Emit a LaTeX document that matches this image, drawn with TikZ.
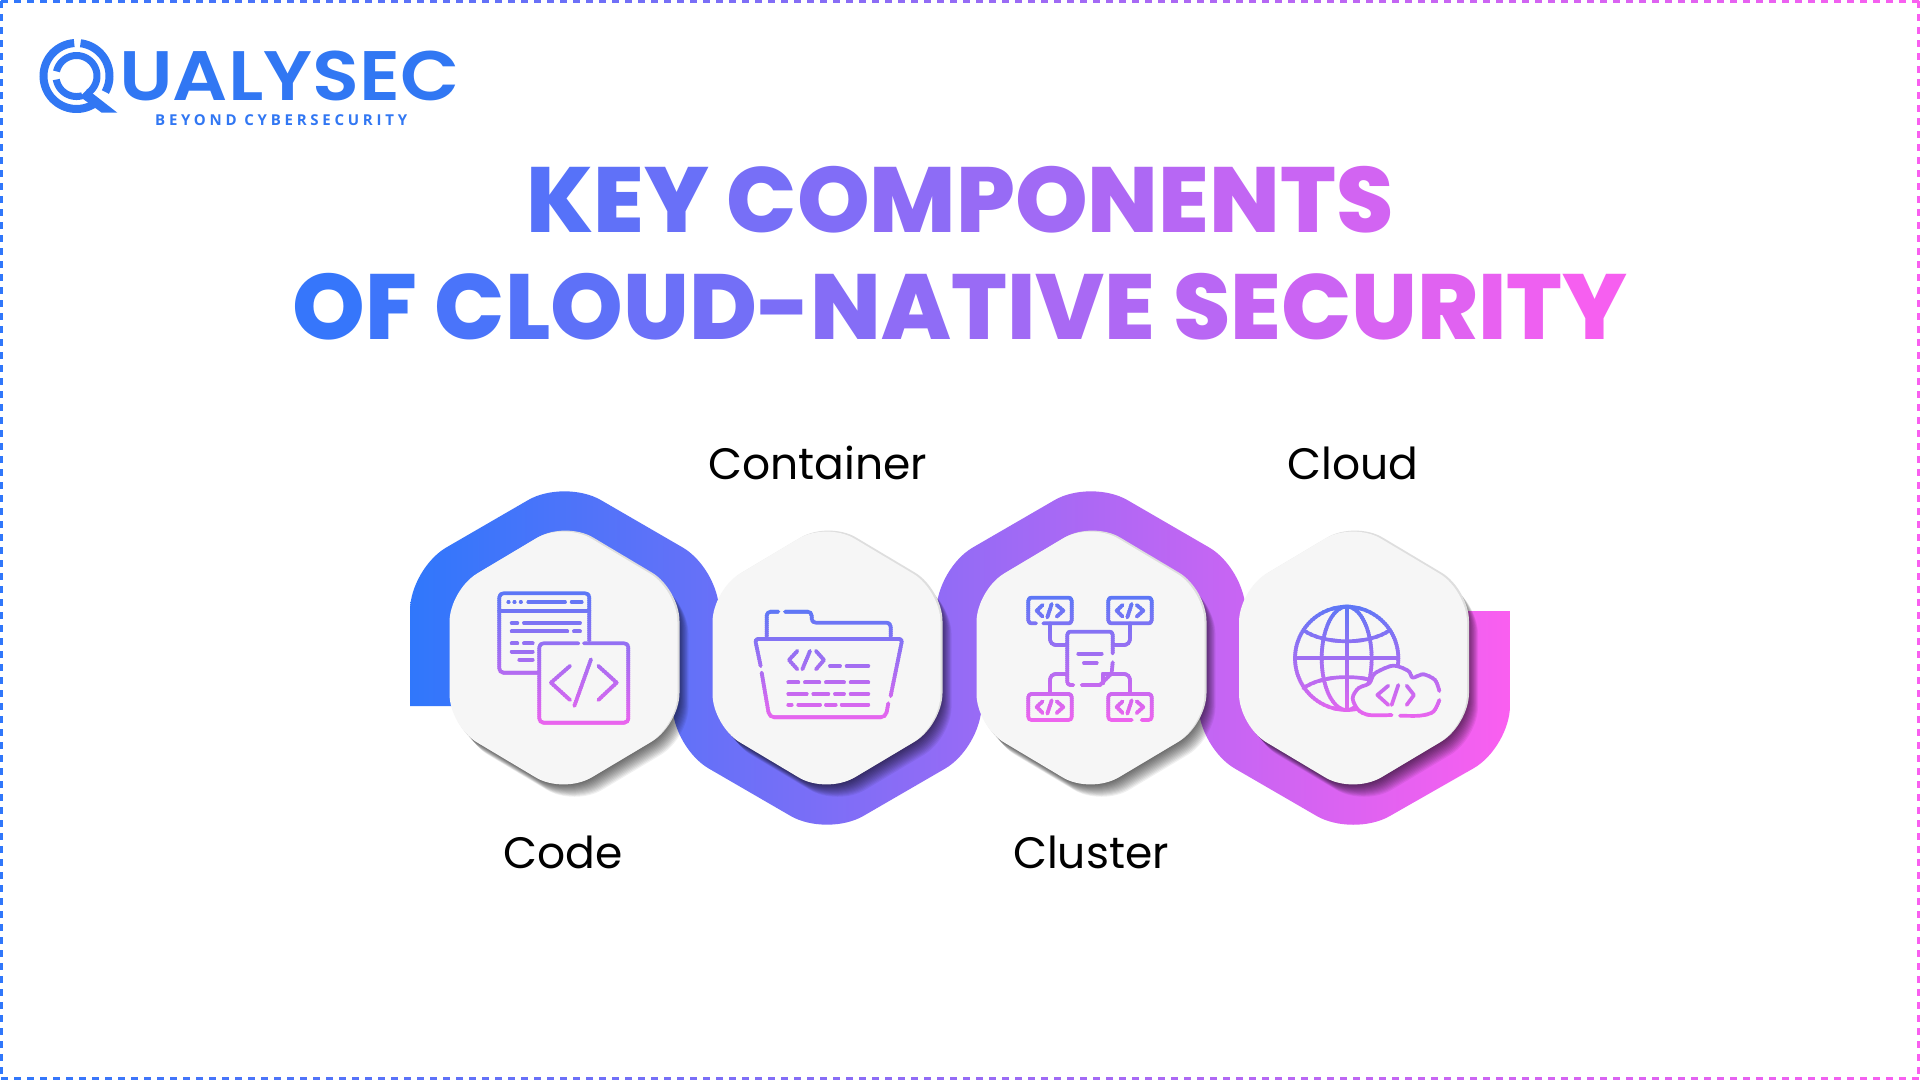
\documentclass[tikz,border=0pt]{standalone}
\usepackage{fontspec}
\setmainfont{Poppins}
\newfontfamily\tagfont{Open Sans}[LetterSpace=25]
\newfontfamily\heavyfont{Poppins ExtraBold}
\newfontfamily\semifont{Poppins SemiBold}
\definecolor{gA}{RGB}{48,119,251}
\definecolor{gB}{RGB}{250,95,240}
\definecolor{icA}{RGB}{88,120,246}
\definecolor{icB}{RGB}{240,100,238}
\definecolor{hexbg}{RGB}{246,246,246}
\definecolor{hexrim}{RGB}{222,222,222}
\definecolor{logoblue}{RGB}{49,119,243}
\tikzset{
  border dash/.style={line width=3pt},
  iconline/.style={line width=3.7pt,line cap=round,line join=round,draw=icc},
  labeltext/.style={font=\fontsize{44}{50}\selectfont,text=black,anchor=base,inner sep=0pt},
  titletext/.style={font=\heavyfont\fontsize{92.5}{100}\selectfont,anchor=base,inner sep=0pt},
  logoline/.style={draw=logoblue,line cap=butt},
}
\newcommand\hexp[4]{({#1-#3},#2) -- ({#1-#3},{#2-#4/2}) -- (#1,{#2-#4}) -- ({#1+#3},{#2-#4/2}) -- ({#1+#3},{#2+#4/2}) -- (#1,{#2+#4}) -- ({#1-#3},{#2+#4/2}) -- cycle}
\newcommand\whitehex[2]{%
  \foreach \k in {1,...,13}{%
    \fill[black,opacity=0.06,rounded corners=32] \hexp{#1+\k*0.85}{#2+\k*0.95}{114}{136};
  }
  \fill[hexrim,rounded corners=32] \hexp{#1+2}{#2-1}{114}{136};
  \fill[hexbg,rounded corners=32] \hexp{#1}{#2}{114}{136};
}
\newcommand\dl[3]{\draw[iconline] (#2,#1) -- (#3,#1);}
% --- icons: coordinates are those of a 3x crop ---
\newcommand\iconcode{%
  \begin{scope}[shift={(480,570)},x=0.3333pt,y=-0.3333pt]
  \draw[iconline,rounded corners=4pt] (328,212) -- (328,70) -- (58,70) -- (58,308) -- (175,308);
  \draw[iconline] (58,122) -- (328,122);
  \dl{97}{85}{86}\dl{97}{103}{104}\dl{97}{122}{123}\dl{97}{145}{255}\dl{97}{275}{305}
  \dl{158}{95}{112}\dl{158}{132}{300}
  \dl{184}{95}{262}\dl{184}{282}{300}
  \dl{220}{95}{112}\dl{220}{132}{158}
  \dl{245}{95}{158}\dl{270}{118}{158}
  \draw[iconline,rounded corners=4pt] (295,220) -- (178,220) -- (178,458) -- (445,458) -- (445,220) -- (312,220);
  \draw[iconline] (270,288) -- (213,338) -- (270,390);
  \draw[iconline] (355,288) -- (410,338) -- (355,390);
  \draw[iconline] (333,268) -- (283,408);
  \end{scope}}
\newcommand\iconfolder{%
  \begin{scope}[shift={(740,590)},x=0.3333pt,y=-0.3333pt]
  \draw[iconline,rounded corners=4pt] (80,140) -- (80,65) -- (115,65);
  \draw[iconline,rounded corners=4pt] (135,65) -- (215,65) -- (215,98) -- (452,98) -- (452,140);
  \draw[iconline,rounded corners=3pt] (62,228) -- (45,147) -- (487,147) -- (452,318);
  \draw[iconline,rounded corners=5pt] (65,248) -- (88,382) -- (437,382) -- (445,340);
  \draw[iconline] (172,183) -- (147,210) -- (172,238);
  \draw[iconline] (210,183) -- (187,238);
  \draw[iconline] (228,183) -- (252,210) -- (228,238);
  \dl{227}{270}{300}\dl{227}{320}{385}
  \dl{277}{145}{175}\dl{277}{195}{238}\dl{277}{258}{312}\dl{277}{332}{385}
  \dl{311}{145}{200}\dl{311}{220}{265}\dl{311}{285}{312}\dl{311}{332}{385}
  \dl{345}{145}{155}\dl{345}{175}{240}\dl{345}{258}{287}\dl{345}{305}{385}
  \end{scope}}
\newcommand\chev[2]{%
  \draw[iconline] ({#1+43},{#2+22}) -- ({#1+25},{#2+39}) -- ({#1+43},{#2+57});
  \draw[iconline] ({#1+70},{#2+19}) -- ({#1+57},{#2+59});
  \draw[iconline] ({#1+85},{#2+22}) -- ({#1+105},{#2+39}) -- ({#1+85},{#2+57});}
\newcommand\iconcluster{%
  \begin{scope}[shift={(1010,585)},x=0.3333pt,y=-0.3333pt]
  \draw[iconline,rounded corners=3pt] (78,115) -- (55,115) -- (55,38) -- (185,38) -- (185,115) -- (100,115);
  \draw[iconline,rounded corners=3pt] (295,38) rectangle (425,115);
  \draw[iconline,rounded corners=3pt] (55,327) rectangle (185,405);
  \draw[iconline,rounded corners=3pt] (365,405) -- (295,405) -- (295,327) -- (425,327) -- (425,405) -- (395,405);
  \chev{55}{38}\chev{295}{38}\chev{55}{327}\chev{295}{327}
  \draw[iconline,rounded corners=6pt] (120,115) -- (120,180) -- (172,180);
  \draw[iconline,rounded corners=6pt] (360,115) -- (360,180) -- (308,180);
  \draw[iconline,rounded corners=3pt] (190,300) -- (172,300) -- (172,140) -- (308,140) -- (308,205);
  \draw[iconline] (215,300) -- (270,300) -- (305,265) -- (308,232);
  \draw[iconline] (278,295) -- (278,268) -- (305,268);
  \dl{207}{205}{275}\dl{233}{222}{260}
  \draw[iconline,rounded corners=6pt] (120,327) -- (120,267) -- (172,267);
  \draw[iconline,rounded corners=6pt] (360,327) -- (360,267) -- (305,267);
  \end{scope}}
\newcommand\iconcloud{%
  \begin{scope}[shift={(1280,595)},x=0.3333pt,y=-0.3333pt]
  \draw[iconline] plot[domain=0:360,samples=72,smooth] ({200+155*cos(\x)},{190+155*sin(\x)});
  \draw[iconline] plot[domain=0:360,samples=72,smooth] ({200+75*cos(\x)},{190+155*sin(\x)});
  \draw[iconline] (200,35) -- (200,345);
  \draw[iconline] (45,190) -- (355,190);
  \draw[iconline] (70,105) .. controls (130,150) and (270,150) .. (330,105);
  \draw[iconline] (70,280) .. controls (130,235) and (270,235) .. (330,280);
  \fill[hexbg] plot[smooth cycle] coordinates {(335,362) (268,362) (235,345) (218,310) (235,280) (268,265) (285,235) (340,212) (385,228) (398,248) (430,238) (465,255) (478,288) (478,315) (460,350) (420,362)};
  \draw[iconline] plot[smooth] coordinates {(335,360) (268,360) (235,345) (218,310) (235,280) (268,265) (285,235) (340,212) (385,228) (398,248) (430,238) (465,255) (478,288)};
  \draw[iconline] plot[smooth] coordinates {(478,315) (460,350) (420,362) (360,362)};
  \draw[iconline] (325,272) -- (292,300) -- (325,330);
  \draw[iconline] (355,270) -- (335,330);
  \draw[iconline] (380,272) -- (402,300) -- (380,330);
  \end{scope}}
\newcommand\gradicon[5]{%
  \pgfmathtruncatemacro\nslice{(#5-#4)/2}
  \foreach \k in {0,...,\nslice}{%
    \pgfmathsetmacro\yy{#4+\k*2}
    \pgfmathsetmacro\yyb{\yy+2.6}
    \pgfmathsetmacro\pp{min(100,\k*200/(#5-#4))}
    \colorlet{icc}{icB!\pp!icA}
    \begin{scope}
      \clip (#2,\yy) rectangle (#3,\yyb);
      #1
    \end{scope}
  }}
\newcommand\gl[2]{\textcolor{gB!#1!gA}{#2}}
\newcommand\logoarc[5]{\draw[logoline,line width=#5pt] plot[domain=#3:#4,samples=40,smooth] ({76.5+#1*cos(\x)},{76+#2*sin(\x)});}
\begin{document}
\begin{tikzpicture}[x=1pt,y=-1pt]
\useasboundingbox (0,0) rectangle (1920,1080);
\fill[white] (0,0) rectangle (1920,1080);
% dashed gradient border
\foreach \i in {0,...,147}{%
  \pgfmathsetmacro\xa{\i*13+1}
  \pgfmathsetmacro\xb{\xa+7}
  \pgfmathsetmacro\pp{\xa/19.2}
  \draw[border dash,gB!\pp!gA] (\xa,1.5) -- (\xb,1.5);
  \draw[border dash,gB!\pp!gA] (\xa,1078.5) -- (\xb,1078.5);
}
\foreach \i in {0,...,82}{%
  \pgfmathsetmacro\ya{\i*13+1}
  \pgfmathsetmacro\yb{\ya+7}
  \draw[border dash,gA] (1.5,\ya) -- (1.5,\yb);
  \draw[border dash,gB] (1918.5,\ya) -- (1918.5,\yb);
}
% logo
\logoarc{33}{33}{-83}{29}{8}
\logoarc{33}{33}{56}{266}{8}
\logoarc{20.5}{20.5}{193}{414}{7}
\logoarc{20.5}{20.5}{74}{170}{7}
\fill[logoblue] (87.3,89.3) -- (117.3,112.7) -- (101.7,112.7) -- (80,96.7) -- cycle;
\node[anchor=base west,inner sep=0pt,text=logoblue,font=\semifont\fontsize{70}{70}\selectfont,xscale=1.1] (logoword) at (119,100.7) {UALYSEC};
\node[anchor=base west,inner sep=0pt,text=logoblue,font=\tagfont\bfseries\fontsize{15}{15}\selectfont] (logotag) at (155,125) {BEYOND CYBERSECURITY};
% title
\node[titletext] (title1) at (960,232.6) {\gl{19}{K}\gl{24}{E}\gl{28}{Y} \gl{35}{C}\gl{40}{O}\gl{46}{M}\gl{51}{P}\gl{56}{O}\gl{62}{N}\gl{67}{E}\gl{72}{N}\gl{76}{T}\gl{80}{S}};
\node[titletext] (title2) at (960,339) {\gl{3}{O}\gl{7}{F} \gl{13}{C}\gl{18}{L}\gl{23}{O}\gl{29}{U}\gl{33}{D}\gl{37}{-}\gl{42}{N}\gl{47}{A}\gl{52}{T}\gl{56}{I}\gl{60}{V}\gl{63}{E} \gl{68}{S}\gl{73}{E}\gl{77}{C}\gl{83}{U}\gl{87}{R}\gl{91}{I}\gl{94}{T}\gl{98}{Y}};
% snake band
\shade[left color=gA,right color=gB,rounded corners=42]
  (410,706) -- (410,568.5) -- (564.5,479) -- (719,568.5) -- (719,660) -- (600,706)
  (981.5,640) -- (981.5,747.5) -- (827,837) -- (672.5,747.5) -- (672.5,640)
  (936.5,680) -- (936.5,568.5) -- (1091,479) -- (1245.5,568.5) -- (1245.5,680)
  (1510,611) -- (1510,747.5) -- (1353,837) -- (1198.5,747.5) -- (1198.5,640) -- (1400,611);
% hexagons
\whitehex{563.5}{658}
\whitehex{826.5}{658}
\whitehex{1090.5}{658}
\whitehex{1353}{658}
% icons
\gradicon{\iconcode}{490}{640}{588}{728}
\gradicon{\iconfolder}{745}{915}{605}{725}
\gradicon{\iconcluster}{1020}{1160}{592}{722}
\gradicon{\iconcloud}{1285}{1445}{600}{722}
% labels
\node[labeltext] (lcontainer) at (818,479) {Container};
\node[labeltext] (lcloud) at (1353,479) {Cloud};
\node[labeltext] (lcode) at (563,868) {Code};
\node[labeltext] (lcluster) at (1091,868) {Cluster};
\end{tikzpicture}
\end{document}
